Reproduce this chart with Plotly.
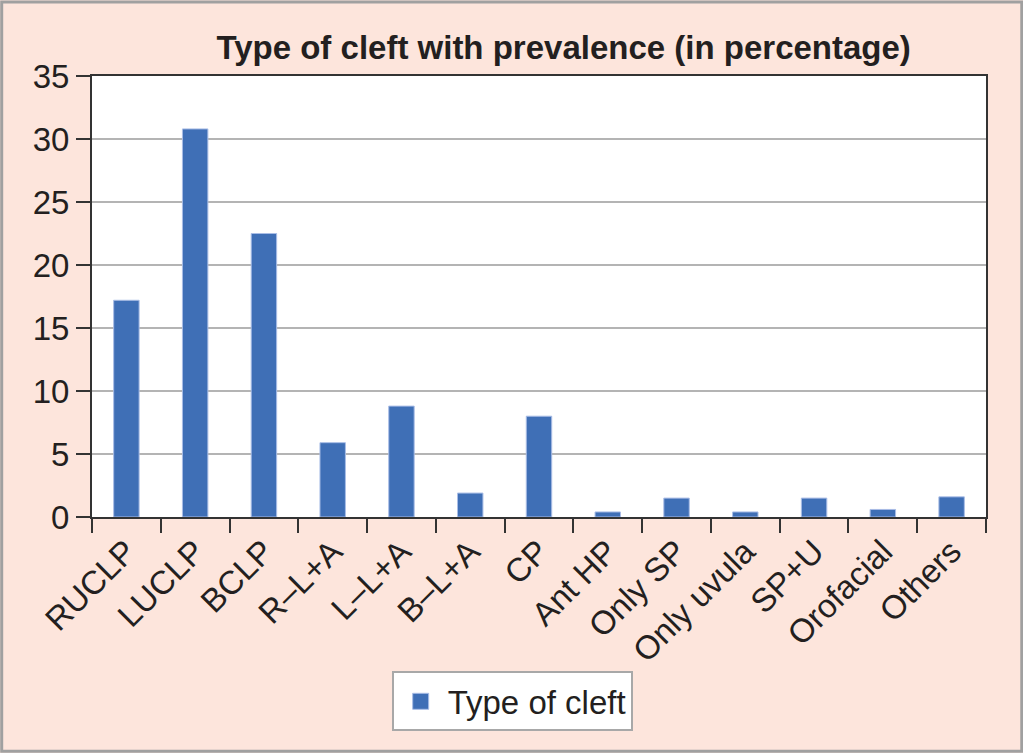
import plotly.graph_objects as go

categories = ["RUCLP", "LUCLP", "BCLP", "R–L+A", "L–L+A", "B–L+A", "CP",
              "Ant HP", "Only SP", "Only uvula", "SP+U", "Orofacial", "Others"]
prevalence = [17.2, 30.8, 22.5, 5.9, 8.8, 1.9, 8.0, 0.4, 1.5, 0.4, 1.5, 0.6, 1.6]
y_ticks = [0, 5, 10, 15, 20, 25, 30, 35]

FONT = "Liberation Sans, Arial, sans-serif"
TXT = "#231f20"
BAR = "#3f6fb6"

fig = go.Figure()
fig.add_trace(go.Bar(
    x=categories, y=prevalence, name="Type of cleft", showlegend=False,
    marker=dict(color=BAR, line=dict(color="#a9bde6", width=1)),
))
# legend-only entry with a larger square swatch
fig.add_trace(go.Scatter(
    x=[categories[0]], y=[None], mode="markers", name="Type of cleft",
    marker=dict(symbol="square", size=30, color=BAR,
                line=dict(color="#a9bde6", width=1)),
    showlegend=True, hoverinfo="skip",
))

fig.update_layout(
    width=1023, height=753,
    margin=dict(l=92, r=37, t=76, b=236),
    paper_bgcolor="#fde5dc",
    plot_bgcolor="#ffffff",
    bargap=0.63,
    font=dict(family=FONT, color=TXT, size=32),
    title=dict(text="<b>Type of cleft with prevalence (in percentage)</b>",
               x=0.551, xanchor="center", y=0.937, yanchor="middle",
               font=dict(family=FONT, size=33, color=TXT)),
    showlegend=True,
    legend=dict(x=0.47, xanchor="center", y=-0.35, yanchor="top",
                orientation="h", bgcolor="#ffffff", bordercolor="#a8a8a8",
                borderwidth=2, itemwidth=44,
                font=dict(family=FONT, size=33, color=TXT)),
    shapes=[dict(type="rect", xref="paper", yref="paper",
                 x0=-0.101, x1=1.040, y0=-0.531, y1=1.168,
                 line=dict(color="#a0a0a0", width=3), layer="below")],
)

fig.update_xaxes(
    type="category", tickangle=-45, tickson="boundaries",
    range=[-0.5, len(categories) - 0.5],
    ticks="outside", ticklen=14, tickwidth=2, tickcolor="#333333",
    showline=True, linecolor="#333333", linewidth=2, mirror=True,
    showgrid=False, tickfont=dict(family=FONT, size=33, color=TXT),
)
fig.update_yaxes(
    range=[0, 35], tickvals=y_ticks,
    ticks="outside", ticklen=14, tickwidth=2, tickcolor="#333333",
    showline=True, linecolor="#333333", linewidth=2, mirror=True,
    showgrid=True, gridcolor="#b4b4b4", gridwidth=2, zeroline=False,
    tickfont=dict(family=FONT, size=33, color=TXT),
)

fig.write_html("out.html", config={"displayModeBar": False},
               post_script="document.body.style.margin='0';")
